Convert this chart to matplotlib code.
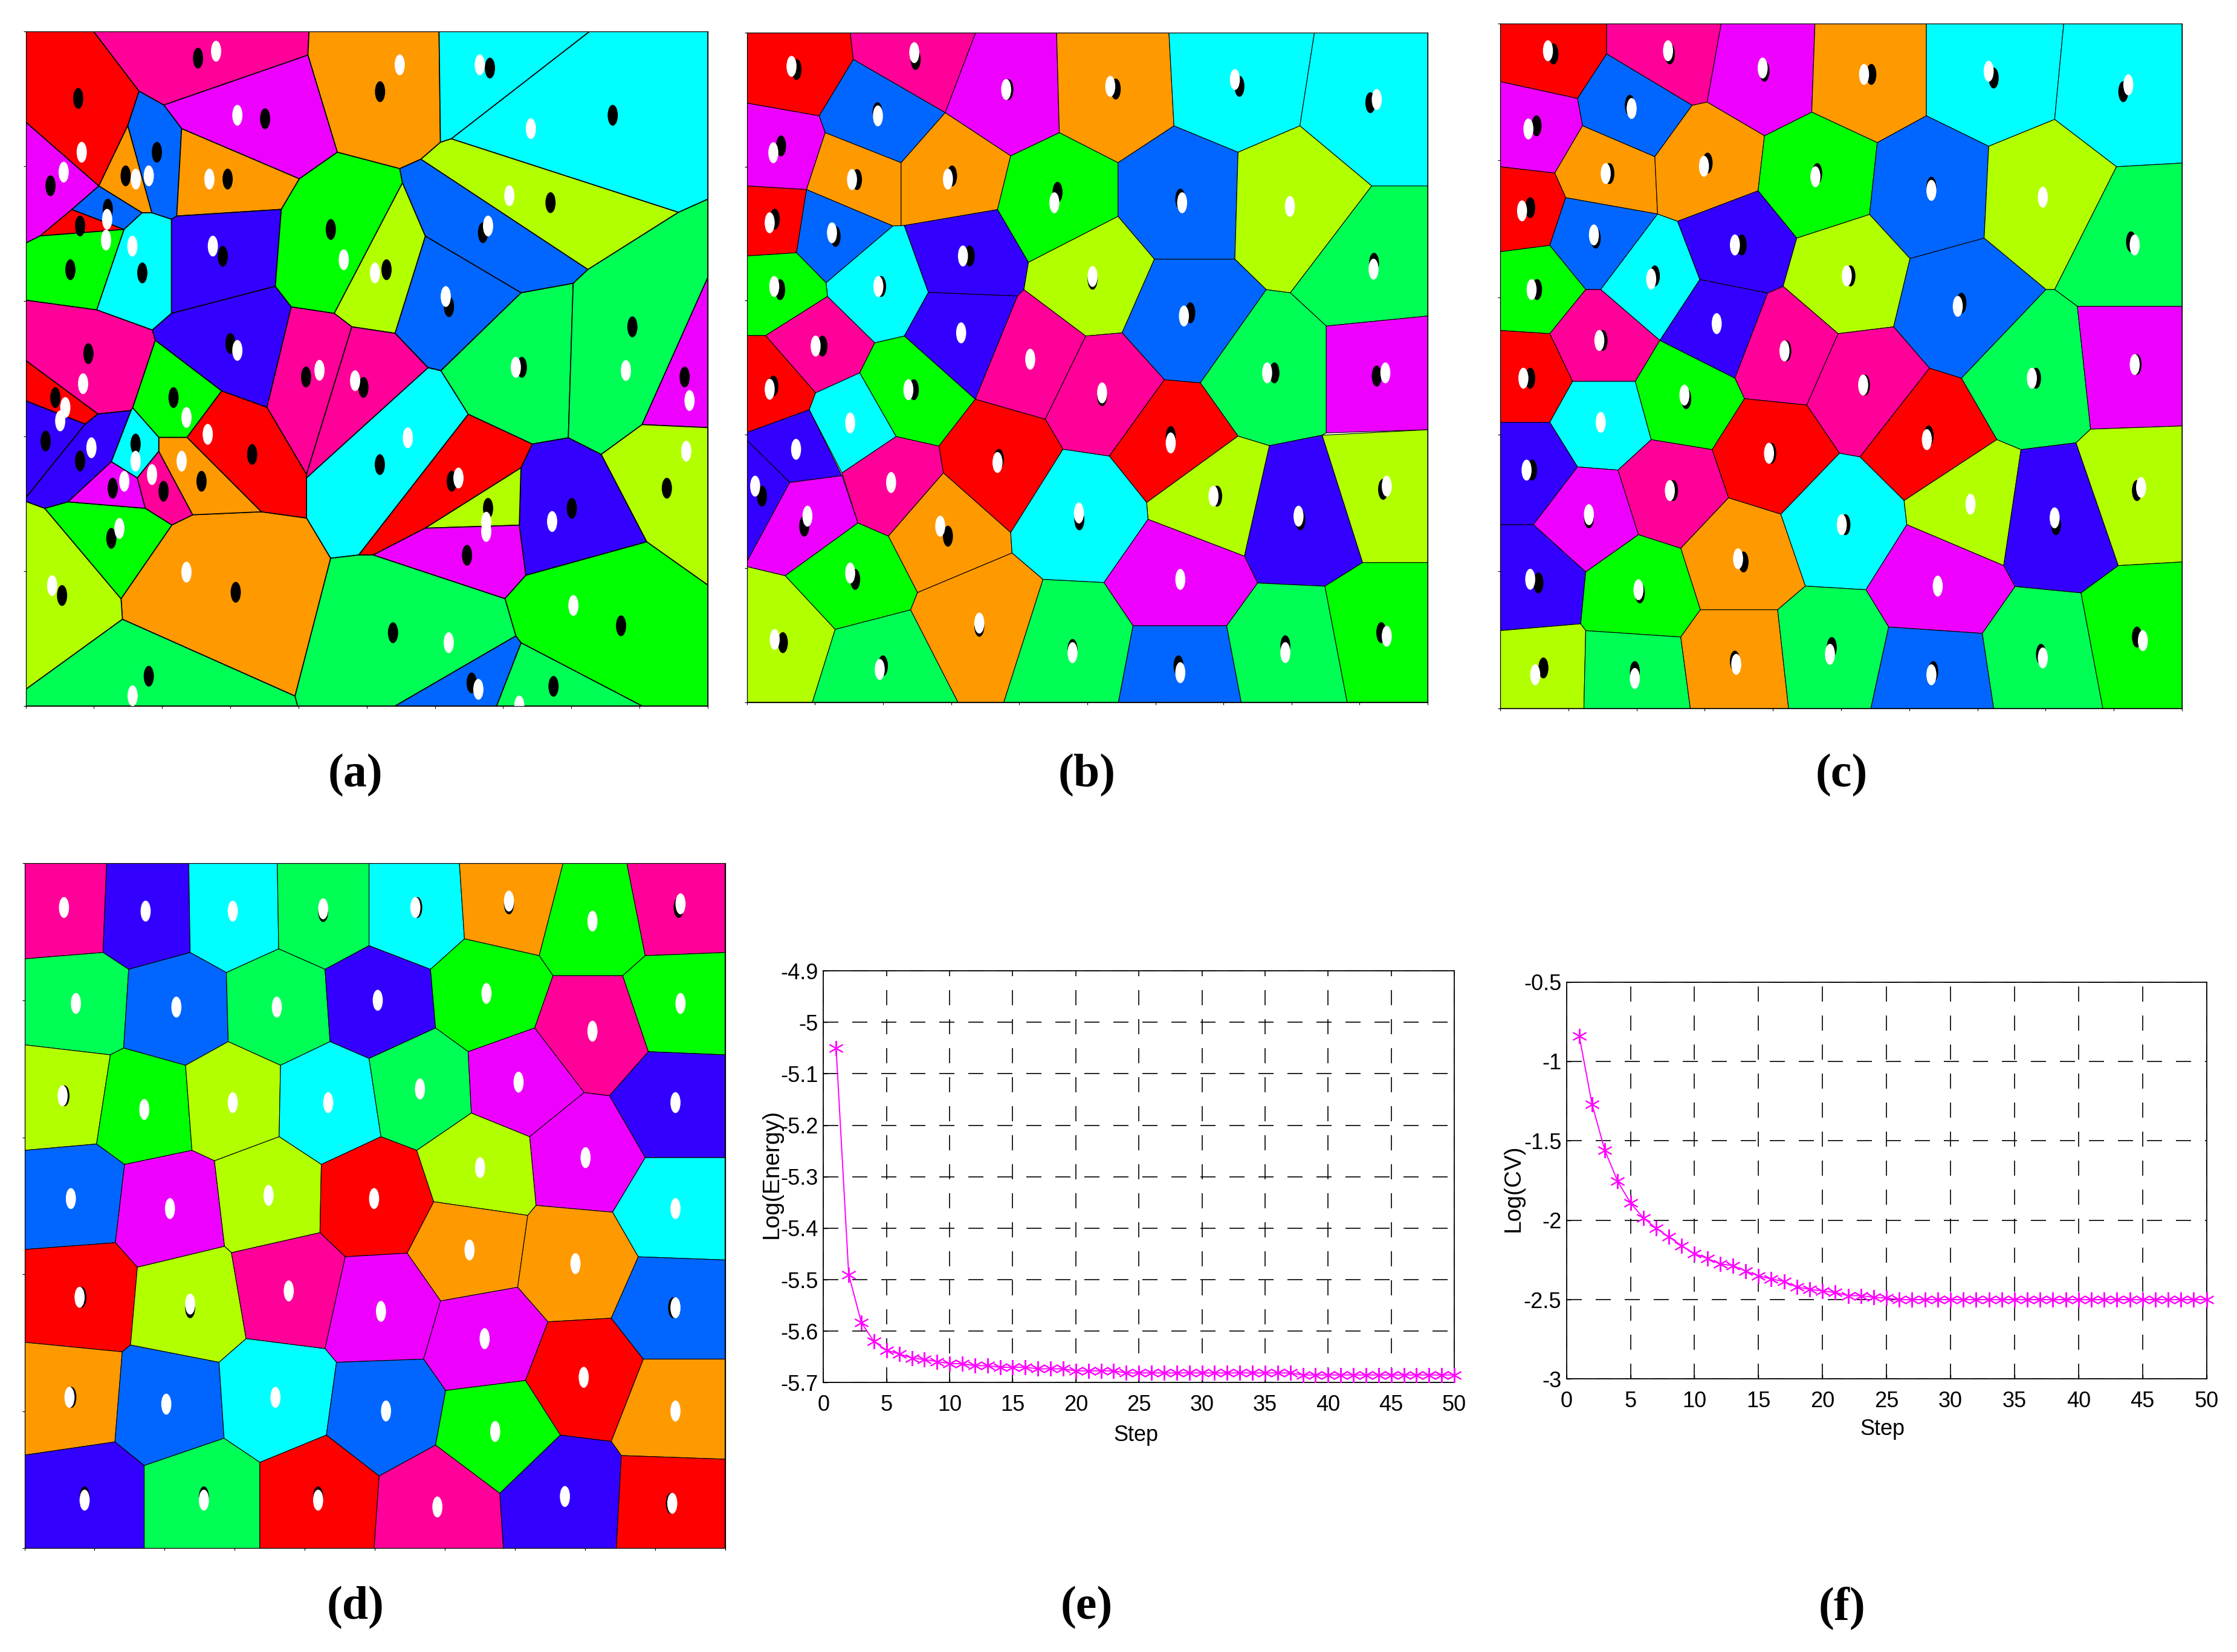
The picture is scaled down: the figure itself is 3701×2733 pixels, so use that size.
import matplotlib
matplotlib.use('Agg')
import matplotlib.pyplot as plt
from matplotlib.patches import Ellipse
import numpy as np

W = 3701
H = 2733

# cell colours, one letter per cell
palette = {'R': '#FF0000', 'P': '#FF0099', 'M': '#EE00FF', 'O': '#FF9900', 'C': '#00FFFF',
           'B': '#0066FF', 'I': '#3300FF', 'G': '#00FF00', 'S': '#00FF55', 'L': '#B2FF00'}

# panel a
colors_a = 'RPOCCMBOMBRGOCIGLBLBSSMLIRLMCGSBSOLSGMPORGCIPPPRII'
verts_a = [
    [(33,57),(326,57),(523,316),(474,465),(349,726),(33,450)],
    [(326,57),(1258,57),(1253,160),(630,376),(523,316)],
    [(1258,57),(1820,57),(1826,537),(1742,610),(1650,651),(1380,580),(1253,160)],
    [(1820,57),(2472,57),(1873,522),(1826,537)],
    [(2472,57),(2982,57),(2982,783),(2855,840),(1873,522)],
    [(630,376),(1253,160),(1380,580),(1216,695),(707,478)],
    [(523,316),(630,376),(707,478),(686,856),(663,870),(578,842),(474,465)],
    [(474,465),(578,842),(536,842),(349,726)],
    [(33,450),(349,726),(232,828),(95,942),(33,973)],
    [(349,726),(536,842),(458,914),(232,828)],
    [(232,828),(458,914),(95,942)],
    [(95,942),(458,914),(340,1262),(33,1220),(33,973)],
    [(707,478),(1216,695),(1138,827),(686,856)],
    [(536,842),(578,842),(663,870),(663,1277),(580,1349),(340,1262),(458,914)],
    [(663,870),(686,856),(1138,827),(1112,1160),(663,1277)],
    [(1380,580),(1650,651),(1662,712),(1367,1277),(1181,1249),(1112,1160),(1138,827),(1216,695)],
    [(1662,712),(1761,943),(1630,1363),(1443,1335),(1367,1277)],
    [(1650,651),(1742,610),(2464,1087),(2400,1147),(2175,1188),(1761,943),(1662,712)],
    [(1742,610),(1826,537),(1873,522),(2855,840),(2464,1087)],
    [(1761,943),(2175,1188),(1828,1524),(1772,1511),(1630,1363)],
    [(2175,1188),(2400,1147),(2379,1815),(2223,1842),(1946,1713),(1828,1525)],
    [(2400,1147),(2464,1087),(2855,840),(2982,783),(2982,1122),(2698,1758),(2521,1887),(2379,1815)],
    [(2982,1122),(2982,1771),(2698,1758)],
    [(2698,1758),(2982,1771),(2982,2452),(2718,2265),(2521,1887)],
    [(2223,1842),(2379,1815),(2521,1887),(2718,2265),(2195,2410),(2167,2193),(2174,1945)],
    [(1946,1713),(2223,1842),(2174,1945),(1760,2206),(1535,2322),(1472,2322)],
    [(1760,2206),(2174,1945),(2167,2193)],
    [(1535,2322),(1760,2206),(2167,2193),(2195,2410),(2105,2511)],
    [(1772,1512),(1828,1525),(1946,1713),(1472,2322),(1351,2336),(1247,2162),(1247,1988)],
    [(2195,2410),(2718,2265),(2982,2452),(2982,2975),(2698,2975),(2175,2702),(2152,2672),(2105,2511)],
    [(1351,2336),(1472,2322),(1535,2322),(2105,2511),(2152,2672),(1630,2975),(1208,2975),(1197,2932)],
    [(2152,2672),(2175,2702),(2069,2975),(1630,2975)],
    [(2175,2702),(2698,2975),(2069,2975)],
    [(445,2511),(665,2192),(755,2148),(1052,2135),(1247,2162),(1351,2336),(1197,2932),(451,2600)],
    [(33,2090),(115,2120),(445,2511),(451,2600),(33,2903)],
    [(33,2903),(451,2600),(1197,2932),(1208,2975),(33,2975)],
    [(115,2120),(215,2092),(550,2120),(665,2192),(445,2511)],
    [(215,2092),(403,1918),(515,1988),(550,2120)],
    [(515,1988),(608,1873),(755,2148),(665,2192),(550,2120)],
    [(608,1813),(730,1813),(1052,2135),(755,2148),(608,1873)],
    [(730,1813),(880,1612),(1076,1683),(1247,1973),(1247,2162),(1052,2135)],
    [(593,1393),(880,1612),(730,1813),(608,1813),(495,1685)],
    [(495,1685),(608,1813),(608,1873),(515,1988),(403,1918),(488,1697)],
    [(580,1349),(663,1277),(1112,1160),(1181,1249),(1076,1683),(880,1612),(593,1393)],
    [(1181,1249),(1367,1277),(1443,1335),(1247,1973),(1076,1683)],
    [(1443,1335),(1630,1363),(1772,1512),(1247,1988),(1247,1973)],
    [(33,1220),(340,1262),(580,1349),(593,1393),(495,1685),(488,1697),(345,1712),(33,1481)],
    [(33,1481),(345,1712),(290,1756),(33,1655)],
    [(33,1655),(290,1756),(33,2075)],
    [(290,1756),(345,1712),(488,1697),(403,1918),(215,2092),(115,2120),(33,2090),(33,2075)],
]
white_a = [(275,580),(856,143),(1650,202),(1996,202),(2217,478),(948,420),(565,682),(509,696),(197,666),
           (385,870),(380,960),(827,696),(494,986),(842,986),(1408,1045),(1543,1102),(2032,899),(2124,768),
           (1849,1204),(2152,1510),(2628,1524),(2903,1654),(2889,1873),(2309,2177),(1904,1989),(2024,2180),
           (2024,2220),(1685,1815),(2401,2540),(1862,2701),(1990,2903),(2167,2975),(728,2396),(147,2454),
           (495,2931),(438,2207),(459,2003),(579,1974),(707,1916),(820,1800),(728,1727),(508,1916),(948,1437),
           (1303,1523),(1457,1568),(281,1581),(204,1684),(182,1742),(317,1858)]
black_a = [(260,347),(778,173),(1565,318),(2040,216),(2571,420),(1068,435),(600,580),(465,682),(140,725),
           (388,826),(268,899),(226,1088),(906,696),(537,1102),(885,1030),(1352,914),(1593,1088),(2010,928),
           (2302,798),(1863,1248),(2178,1510),(2656,1335),(2882,1552),(2805,2033),(2394,2120),(1875,2003),
           (2032,2120),(1941,2323),(1564,1931),(2607,2628),(1621,2658),(1961,2875),(2315,2890),(941,2483),
           (190,2497),(565,2846),(403,2250),(409,2033),(629,2046),(793,2003),(1012,1887),(672,1641),(508,1842),
           (918,1407),(1245,1552),(1493,1597),(304,1451),(161,1641),(119,1829),(268,1915)]

# panel b
colors_b = 'RPMOCCBMOOGBLSRBCILBGPIPPSMRGCIIRRLILMPOCMGLSOSBSG'
verts_b = [
    [(21,32),(248,32),(255,91),(180,215),(21,187)],
    [(248,32),(524,32),(457,208),(255,91)],
    [(524,32),(702,32),(708,252),(601,303),(457,208)],
    [(702,32),(949,32),(960,237),(837,318),(708,252)],
    [(949,32),(1269,32),(1237,237),(1101,295),(960,237)],
    [(1269,32),(1518,32),(1518,369),(1395,369),(1237,237)],
    [(255,91),(457,208),(360,318),(193,252),(180,215)],
    [(21,187),(180,215),(193,252),(152,377),(21,369)],
    [(193,252),(360,318),(360,457),(342,457),(152,377)],
    [(360,318),(457,208),(601,303),(572,421),(367,456),(360,457)],
    [(601,303),(708,252),(837,318),(837,436),(640,537),(572,421)],
    [(837,318),(960,237),(1101,295),(1094,530),(917,530),(837,436)],
    [(1101,295),(1237,237),(1395,369),(1216,604),(1163,597),(1094,530)],
    [(1395,369),(1518,369),(1518,655),(1295,677),(1216,604)],
    [(21,369),(152,377),(130,516),(21,523)],
    [(152,377),(342,457),(195,582),(130,516)],
    [(342,457),(367,456),(420,603),(367,699),(302,714),(198,612),(195,582)],
    [(367,456),(572,421),(640,537),(630,597),(616,611),(420,603)],
    [(640,537),(837,436),(917,530),(846,692),(766,699),(630,597)],
    [(917,530),(1094,530),(1163,597),(1018,802),(939,795),(846,692)],
    [(21,523),(130,516),(195,582),(198,612),(62,698),(21,698)],
    [(62,698),(198,612),(302,714),(269,780),(172,824)],
    [(420,603),(616,611),(523,838),(367,699)],
    [(630,597),(766,699),(677,882),(523,838),(616,611)],
    [(766,699),(846,692),(939,795),(818,963),(716,948),(677,882)],
    [(1018,802),(1163,597),(1216,604),(1295,677),(1295,912),(1286,917),(1170,940),(1101,919)],
    [(1295,677),(1518,655),(1518,905),(1295,912)],
    [(21,698),(62,698),(172,824),(158,861),(21,911)],
    [(302,714),(367,699),(523,838),(443,941),(349,920),(269,780)],
    [(172,824),(269,780),(349,920),(230,1000),(158,861)],
    [(21,911),(158,861),(230,1006),(115,1021),(21,928)],
    [(21,928),(115,1021),(21,1195)],
    [(523,838),(677,882),(716,948),(601,1131),(453,1000),(443,941)],
    [(939,795),(1018,802),(1101,919),(900,1065),(818,963)],
    [(1101,919),(1170,940),(1115,1183),(903,1102),(900,1065)],
    [(1170,940),(1286,917),(1375,1197),(1292,1249),(1144,1242),(1115,1183)],
    [(1286,917),(1518,905),(1518,1197),(1375,1197)],
    [(115,1021),(230,1006),(265,1110),(105,1226),(21,1206),(21,1195)],
    [(230,1000),(349,920),(443,941),(453,1000),(332,1139),(265,1110)],
    [(453,1000),(601,1131),(604,1176),(396,1263),(332,1139)],
    [(716,948),(818,963),(900,1065),(903,1102),(806,1241),(672,1234),(604,1176),(601,1131)],
    [(903,1102),(1115,1183),(1144,1242),(1076,1336),(870,1336),(806,1241)],
    [(265,1110),(332,1139),(396,1263),(381,1301),(215,1344),(105,1226)],
    [(21,1206),(105,1226),(215,1344),(165,1504),(21,1504)],
    [(215,1344),(381,1301),(485,1504),(165,1504)],
    [(396,1263),(604,1176),(672,1234),(586,1504),(485,1504),(381,1301)],
    [(672,1234),(806,1241),(870,1336),(838,1504),(586,1504)],
    [(870,1336),(1076,1336),(1108,1504),(838,1504)],
    [(1076,1336),(1144,1242),(1292,1249),(1341,1504),(1108,1504)],
    [(1292,1249),(1375,1197),(1518,1197),(1518,1504),(1341,1504)],
]
white_b = [(119,106),(389,76),(591,157),(820,150),(1094,135),(1406,179),(309,215),(79,296),(252,355),(463,354),
           (697,406),(978,406),(1215,414),(1399,552),(71,450),(208,472),(310,590),(496,523),(781,568),(982,655),
           (81,590),(172,721),(492,692),(644,750),(802,824),(1165,780),(1425,780),(71,816),(376,817),(248,890),
           (129,948),(39,1029),(572,977),(953,934),(1047,1051),(1234,1095),(1428,1029),(154,1095),(338,1021),
           (446,1117),(751,1088),(974,1234),(248,1220),(82,1366),(313,1432),(532,1330),(737,1395),(974,1439),
           (1205,1395),(1428,1359)]
black_b = [(130,113),(392,91),(596,157),(832,156),(1104,150),(1392,186),(308,208),(96,281),(263,355),(472,347),
           (704,383),(974,398),(1400,539),(82,442),(216,480),(316,590),(511,523),(781,574),(996,648),(94,597),
           (187,721),(802,830),(1181,780),(1406,787),(79,809),(388,817),(54,1051),(575,970),(953,920),(1055,1051),
           (1238,1103),(1420,1036),(147,1117),(463,1139),(752,1103),(259,1234),(100,1373),(320,1424),(532,1337),
           (737,1388),(970,1424),(1205,1380),(1416,1351)]

# panel c
colors_c = 'RPMOCCBMOOGBLSRBCILBGPIPPSMRCGRRIMPOCLILMIGLSOSBSG'
verts_c = [
    [(16,25),(250,25),(250,92),(186,190),(16,153)],
    [(250,25),(502,25),(471,198),(438,205),(250,92)],
    [(502,25),(708,25),(701,220),(597,272),(471,198)],
    [(708,25),(953,25),(953,228),(845,287),(701,220)],
    [(953,25),(1255,25),(1235,236),(1090,295),(953,228)],
    [(1255,25),(1515,25),(1515,332),(1371,340),(1235,236)],
    [(250,92),(438,205),(356,318),(197,250),(186,190)],
    [(16,153),(186,190),(197,250),(136,354),(16,340)],
    [(197,250),(356,318),(362,444),(160,408),(136,354)],
    [(356,318),(438,205),(471,198),(597,272),(583,393),(406,460),(362,444)],
    [(597,272),(701,220),(845,287),(828,445),(668,497),(583,393)],
    [(845,287),(953,228),(1090,295),(1080,497),(917,542),(828,445)],
    [(1090,295),(1235,236),(1371,340),(1235,610),(1216,610),(1080,497)],
    [(1371,340),(1515,332),(1515,647),(1285,647),(1235,610)],
    [(16,340),(136,354),(160,408),(125,513),(16,527)],
    [(160,408),(362,444),(237,610),(204,610),(125,513)],
    [(362,444),(406,460),(455,588),(367,722),(237,610)],
    [(406,460),(583,393),(668,497),(638,603),(604,618),(455,588)],
    [(668,497),(828,445),(917,542),(881,692),(759,707),(638,603)],
    [(917,542),(1080,497),(1216,610),(1030,805),(960,783),(881,692)],
    [(16,527),(125,513),(204,610),(125,707),(16,700)],
    [(125,707),(204,610),(237,610),(367,722),(313,812),(175,812)],
    [(455,588),(604,618),(532,805),(367,722)],
    [(604,618),(638,603),(759,707),(690,864),(553,850),(532,805)],
    [(759,707),(881,692),(960,783),(807,978),(762,970),(690,864)],
    [(1030,805),(1216,610),(1235,610),(1285,647),(1314,917),(1282,947),(1161,962),(1108,940)],
    [(1285,647),(1515,647),(1515,910),(1314,917)],
    [(16,700),(125,707),(175,812),(125,902),(16,902)],
    [(175,812),(313,812),(348,940),(275,1007),(186,1000),(125,902)],
    [(367,722),(532,805),(553,850),(482,962),(348,940),(313,812)],
    [(553,850),(690,864),(762,970),(633,1104),(518,1068),(482,962)],
    [(960,783),(1030,805),(1108,940),(904,1074),(807,978)],
    [(16,902),(125,902),(186,1000),(89,1127),(16,1127)],
    [(186,1000),(275,1007),(320,1149),(204,1231),(89,1127)],
    [(275,1007),(348,940),(482,962),(518,1068),(413,1179),(320,1149)],
    [(518,1068),(633,1104),(687,1262),(626,1314),(456,1314),(413,1179)],
    [(762,970),(807,978),(904,1074),(910,1127),(820,1270),(687,1262),(633,1104)],
    [(904,1074),(1108,940),(1161,962),(1123,1217),(910,1127)],
    [(1161,962),(1282,947),(1375,1217),(1293,1277),(1148,1263),(1123,1217)],
    [(1282,947),(1314,917),(1515,910),(1515,1209),(1375,1217)],
    [(910,1127),(1123,1217),(1148,1263),(1076,1366),(870,1352),(820,1270)],
    [(16,1127),(89,1127),(204,1231),(193,1345),(16,1360)],
    [(204,1231),(320,1149),(413,1179),(456,1314),(413,1374),(204,1360),(193,1345)],
    [(16,1360),(193,1345),(204,1360),(200,1531),(16,1531)],
    [(204,1360),(413,1374),(434,1531),(200,1531)],
    [(413,1374),(456,1314),(626,1314),(650,1531),(434,1531)],
    [(626,1314),(687,1262),(820,1270),(870,1352),(831,1531),(650,1531)],
    [(870,1352),(1076,1366),(1101,1531),(831,1531)],
    [(1076,1366),(1148,1263),(1293,1277),(1341,1531),(1101,1531)],
    [(1293,1277),(1375,1217),(1515,1209),(1515,1531),(1341,1531)],
]
white_c = [(121,85),(385,85),(593,123),(816,137),(1090,130),(1397,160),(305,212),(78,257),(248,355),(464,339),
           (709,362),(964,392),(1209,407),(1411,512),(64,437),(222,490),(348,587),(532,512),(778,580),(1022,647),
           (85,610),(234,722),(492,685),(641,745),(814,820),(1185,805),(1411,775),(67,805),(237,902),(421,842),
           (607,970),(954,940),(74,1007),(211,1105),(389,1052),(539,1202),(767,1127),(1050,1082),(1235,1112),
           (1425,1045),(978,1262),(82,1247),(320,1270),(93,1457),(312,1465),(535,1434),(741,1412),(964,1457),
           (1209,1420),(1429,1382)]
black_c = [(133,92),(389,92),(597,130),(832,137),(1101,145),(1386,175),(301,205),(96,250),(256,355),(472,332),
           (713,355),(964,385),(1403,505),(82,430),(226,497),(356,580),(547,512),(786,580),(1030,640),(97,610),
           (241,722),(645,745),(818,820),(1194,805),(1415,775),(82,805),(425,850),(612,970),(958,932),(86,1007),
           (211,1112),(396,1052),(551,1209),(775,1127),(1238,1127),(1416,1052),(100,1255),(323,1277),(111,1442),
           (312,1450),(532,1427),(745,1397),(968,1450),(1205,1412),(1416,1374)]

# panel d
colors_d = 'PICSCOGPSBSIGPGLGLCSMIMBMLRLOOCRLPMMRBOBCBGOISRPIR'
verts_d = [
    [(14,11),(193,11),(185,207),(14,221)],
    [(193,11),(372,11),(375,207),(241,244),(185,207)],
    [(372,11),(565,11),(568,199),(454,251),(375,207)],
    [(565,11),(765,11),(765,192),(669,244),(568,199)],
    [(765,11),(962,11),(973,177),(899,244),(765,192)],
    [(962,11),(1188,11),(1136,214),(973,177)],
    [(1188,11),(1327,11),(1367,214),(1318,258),(1166,258),(1136,214)],
    [(1327,11),(1541,11),(1541,207),(1367,214)],
    [(14,221),(185,207),(241,244),(230,417),(201,432),(14,410)],
    [(241,244),(375,207),(454,251),(458,403),(365,455),(230,417)],
    [(454,251),(568,199),(669,244),(680,403),(572,455),(458,403)],
    [(669,244),(765,192),(899,244),(910,373),(765,440),(680,403)],
    [(899,244),(973,177),(1136,214),(1166,258),(1126,373),(981,425),(910,373)],
    [(1166,258),(1318,258),(1374,425),(1289,522),(1234,515),(1126,373)],
    [(1318,258),(1367,214),(1541,207),(1541,432),(1374,425)],
    [(14,410),(201,432),(171,628),(14,642)],
    [(201,432),(230,417),(365,455),(379,642),(232,673),(171,628)],
    [(365,455),(458,403),(572,455),(569,612),(428,665),(379,642)],
    [(572,455),(680,403),(765,440),(791,612),(661,673),(569,612)],
    [(765,440),(910,373),(981,425),(988,560),(869,642),(791,612)],
    [(981,425),(1126,373),(1234,515),(1115,612),(988,560)],
    [(1289,522),(1374,425),(1541,432),(1541,658),(1367,658)],
    [(1115,612),(1234,515),(1289,522),(1367,658),(1296,778),(1129,763)],
    [(14,642),(171,628),(232,673),(212,845),(14,860)],
    [(232,673),(379,642),(428,665),(450,853),(260,899),(212,845)],
    [(428,665),(569,612),(661,673),(658,823),(465,867),(450,853)],
    [(661,673),(791,612),(869,642),(906,755),(848,868),(713,876),(658,823)],
    [(869,642),(988,560),(1115,612),(1129,763),(1111,785),(906,755)],
    [(906,755),(1111,785),(1089,943),(921,973),(848,868)],
    [(1129,763),(1296,778),(1352,876),(1293,1011),(1155,1019),(1089,943),(1111,785)],
    [(1296,778),(1367,658),(1541,658),(1541,883),(1352,876)],
    [(14,860),(212,845),(260,899),(245,1070),(227,1085),(14,1064)],
    [(260,899),(450,853),(465,867),(497,1056),(438,1108),(245,1070)],
    [(465,867),(658,823),(713,876),(669,1078),(497,1056)],
    [(713,876),(848,868),(921,973),(884,1101),(694,1108),(669,1078)],
    [(921,973),(1089,943),(1155,1019),(1106,1148),(932,1170),(884,1101)],
    [(1155,1019),(1293,1011),(1363,1101),(1293,1282),(1182,1268),(1106,1148)],
    [(1293,1011),(1352,876),(1541,883),(1541,1101),(1363,1101)],
    [(14,1064),(227,1085),(211,1283),(14,1312)],
    [(227,1085),(245,1070),(438,1108),(449,1275),(275,1335),(211,1283)],
    [(438,1108),(497,1056),(669,1078),(694,1108),(672,1268),(527,1328),(449,1275)],
    [(694,1108),(884,1101),(932,1170),(910,1290),(787,1358),(672,1268)],
    [(932,1170),(1106,1148),(1182,1268),(1050,1396),(910,1290)],
    [(1293,1282),(1363,1101),(1541,1101),(1541,1321),(1315,1313)],
    [(14,1312),(211,1283),(275,1335),(275,1517),(14,1517)],
    [(275,1335),(449,1275),(527,1328),(527,1517),(275,1517)],
    [(527,1328),(672,1268),(787,1358),(776,1517),(527,1517)],
    [(787,1358),(910,1290),(1050,1396),(1058,1517),(776,1517)],
    [(1050,1396),(1182,1268),(1293,1282),(1315,1313),(1304,1517),(1058,1517)],
    [(1315,1313),(1541,1321),(1541,1517),(1304,1517)],
]
white_d = [(100,108),(278,116),(468,116),(665,111),(866,108),(1070,94),(1252,138),(1444,100),(126,319),(345,327),
           (564,327),(784,312),(1021,297),(1252,380),(1444,319),(97,522),(275,552),(468,537),(676,537),(876,507),
           (1091,492),(1433,537),(1237,658),(115,748),(331,770),(546,741),(776,748),(1007,680),(984,861),(1215,891),
           (1433,770),(134,965),(375,980),(590,951),(791,996),(1017,1056),(1233,1141),(1433,988),(112,1185),(323,1200),
           (561,1185),(802,1215),(1040,1260),(1433,1215),(145,1411),(405,1411),(654,1411),(914,1426),(1192,1403),(1426,1418)]
black_d = [(665,117),(870,108),(1070,100),(1440,108),(101,522),(138,965),(375,988),(1428,988),(116,1185),
           (145,1404),(405,1404),(654,1404),(1423,1418)]

# curves
steps = list(range(1, 51))
log_energy = [-5.05, -5.49, -5.583, -5.62, -5.637, -5.644, -5.652, -5.655, -5.659, -5.663,
              -5.663, -5.667, -5.667, -5.67, -5.67, -5.67, -5.673, -5.673, -5.673, -5.677,
              -5.677, -5.677, -5.677, -5.681, -5.681, -5.681, -5.681, -5.681, -5.681, -5.681,
              -5.681, -5.681, -5.681, -5.681, -5.681, -5.681, -5.681, -5.685, -5.685, -5.685,
              -5.685, -5.685, -5.685, -5.685, -5.685, -5.685, -5.685, -5.685, -5.685, -5.685]
log_cv = [-0.84, -1.27, -1.56, -1.755, -1.89, -1.985, -2.05, -2.105, -2.16, -2.21,
          -2.24, -2.275, -2.285, -2.32, -2.35, -2.37, -2.385, -2.42, -2.435, -2.445,
          -2.455, -2.475, -2.475, -2.485, -2.49, -2.5, -2.5, -2.5, -2.5, -2.5,
          -2.5, -2.5, -2.5, -2.5, -2.5, -2.5, -2.5, -2.5, -2.5, -2.5,
          -2.5, -2.5, -2.5, -2.5, -2.5, -2.5, -2.5, -2.5, -2.5, -2.5]
x_ticks = [0, 5, 10, 15, 20, 25, 30, 35, 40, 45, 50]
energy_ticks = [-5.7, -5.6, -5.5, -5.4, -5.3, -5.2, -5.1, -5, -4.9]
energy_labels = ['-5.7', '-5.6', '-5.5', '-5.4', '-5.3', '-5.2', '-5.1', '-5', '-4.9']
cv_ticks = [-3, -2.5, -2, -1.5, -1, -0.5]
cv_labels = ['-3', '-2.5', '-2', '-1.5', '-1', '-0.5']
panel_labels = ['(a)', '(b)', '(c)', '(d)', '(e)', '(f)']

narrow = ['Liberation Sans Narrow', 'Liberation Sans']

fig = plt.figure(figsize=((W + 0.01) / 100, (H + 0.01) / 100), dpi=100)


def add_axes(left, right, top, bottom):
    return fig.add_axes([left / W, 1 - bottom / H, (right - left) / W, (bottom - top) / H])


def voronoi_panel(box, xlim, ylim, colors, verts, white, black, dot, edge_lw):
    ax = add_axes(*box)
    for c, v in zip(colors, verts):
        xy = np.array(v)
        ax.fill(xy[:, 0], xy[:, 1], facecolor=palette[c], edgecolor='black', linewidth=edge_lw, zorder=1)
    for p in black:
        ax.add_patch(Ellipse(p, dot[0], dot[1], facecolor='black', edgecolor='none', zorder=2))
    for p in white:
        ax.add_patch(Ellipse(p, dot[0], dot[1], facecolor='white', edgecolor='none', zorder=3))
    ax.set_xlim(xlim)
    ax.set_ylim(ylim[1], ylim[0])
    ax.set_xticks(np.linspace(xlim[0], xlim[1], 11))
    ax.set_yticks(np.linspace(ylim[0], ylim[1], 6))
    ax.tick_params(length=3, width=0.8, labelbottom=False, labelleft=False, direction='out')
    for s in ax.spines.values():
        s.set_linewidth(0.9)
    return ax


voronoi_panel((42.6, 1171, 51.8, 1168), (33, 2982), (57, 2975), colors_a, verts_a, white_a, black_a, (44, 90), 1.2)
voronoi_panel((1235.8, 2362, 54, 1161.7), (21, 1518), (32, 1504), colors_b, verts_b, white_b, black_b, (22, 46), 0.8)
voronoi_panel((2482, 3610, 38.8, 1172), (16, 1515), (25, 1531), colors_c, verts_c, white_c, black_c, (22, 46), 0.8)
voronoi_panel((40.6, 1199.5, 1428.3, 2561.5), (14, 1541), (11, 1517), colors_d, verts_d, white_d, black_d, (22, 46), 0.8)


def curve_panel(box, values, yticks, ylabels, ylim, ylabel, ylabel_xy, step_xy):
    ax = add_axes(*box)
    ax.plot(steps, values, color='#FF00FF', linewidth=1.4, marker=(6, 2, 0), markersize=18,
            markeredgewidth=1.4, clip_on=False, zorder=5)
    ax.set_xlim(0, 50)
    ax.set_ylim(ylim)
    ax.set_xticks(x_ticks)
    ax.set_xticklabels([str(t) for t in x_ticks], family=narrow, fontsize=26)
    ax.set_yticks(yticks)
    ax.set_yticklabels(ylabels, family=narrow, fontsize=26)
    ax.set_axisbelow(True)
    ax.grid(True, color='black', linewidth=1.2, linestyle=(0, (15, 13.8)))
    ax.tick_params(axis='x', direction='in', length=5, width=1, pad=14)
    ax.tick_params(axis='y', direction='in', length=5, width=1, pad=6)
    ax.set_xlabel('Step', family=narrow, fontsize=26, va='center')
    ax.xaxis.set_label_coords(*step_xy)
    ax.set_ylabel(ylabel, family='Liberation Sans', fontsize=28, va='center')
    ax.yaxis.set_label_coords(*ylabel_xy)
    for s in ax.spines.values():
        s.set_linewidth(1.3)
    return ax


curve_panel((1362.4, 2406, 1606, 2287.5), log_energy, energy_ticks, energy_labels, (-5.7, -4.9),
            'Log(Energy)', (-0.082, 0.507), (0.495, -0.127))
curve_panel((2591.6, 3650.6, 1624.6, 2281.5), log_cv, cv_ticks, cv_labels, (-3, -0.5),
            'Log(CV)', (-0.083, 0.48), (0.494, -0.127))

label_x = [588, 1798, 3047, 588, 1798, 3047]
label_y = [1283, 1283, 1283, 2660, 2660, 2660]
for t, x, y in zip(panel_labels, label_x, label_y):
    fig.text(x / W, 1 - y / H, t, family='Liberation Serif', fontsize=56, weight='bold', ha='center', va='center')

fig.savefig('out.png', dpi=100)
